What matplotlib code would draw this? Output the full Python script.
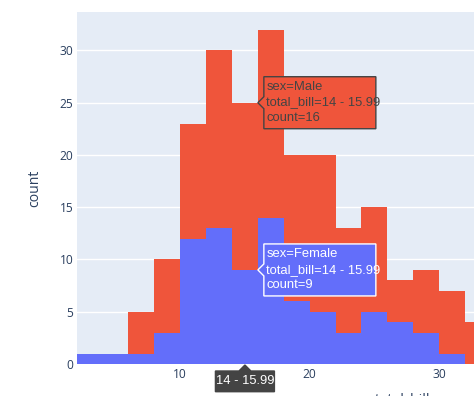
import matplotlib
matplotlib.use("Agg")
import matplotlib.pyplot as plt
import matplotlib.transforms as mtransforms
from matplotlib.patches import Polygon

# histogram of total_bill, bins of width 2, stacked by sex
bin_left = [2, 4, 6, 8, 10, 12, 14, 16, 18, 20, 22, 24, 26, 28, 30, 32]
bin_width = 2
female = [1, 1, 1, 3, 12, 13, 9, 14, 6, 5, 3, 5, 4, 3, 1, 0]
male = [0, 0, 4, 7, 11, 17, 16, 18, 14, 15, 10, 10, 4, 6, 6, 4]
y_ticks = [0, 5, 10, 15, 20, 25, 30]
x_ticks = [10, 20, 30]

BLUE = "#636EFA"
RED = "#EF553B"
BG = "#E5ECF6"
FONT_COLOR = "#2a3f5f"

W, H = 474, 396
fig = plt.figure(figsize=(W / 100, H / 100), dpi=100)
left, right, top, bottom = 76.7, 474, 12, 364
ax = fig.add_axes([left / W, 1 - bottom / H, (right - left) / W, (bottom - top) / H])
ax.set_facecolor(BG)
for s in ax.spines.values():
    s.set_visible(False)

ax.bar(bin_left, female, width=bin_width, align="edge", color=BLUE, linewidth=0, zorder=2)
ax.bar(bin_left, male, width=bin_width, bottom=female, align="edge", color=RED, linewidth=0, zorder=2)

ax.set_xlim(2, 2 + (right - left) / 12.94)
ax.set_ylim(0, 33.68)
ax.set_yticks(y_ticks)
ax.set_xticks(x_ticks)
ax.yaxis.grid(True, color="white", linewidth=1, zorder=0)
ax.xaxis.grid(False)
ax.set_axisbelow(True)
ax.tick_params(length=0, labelsize=8.64, labelcolor=FONT_COLOR)
ax.tick_params(axis="y", pad=2.5)
ax.tick_params(axis="x", pad=3)
for lbl in ax.get_xticklabels() + ax.get_yticklabels():
    lbl.set_fontfamily("Open Sans")

fig.text(34.3 / W, 1 - 188 / H, "count", rotation=90, ha="center", va="center",
         fontsize=10.08, color=FONT_COLOR, fontfamily="Open Sans")
fig.text(403 / W, 1 - 393 / H, "total_bill", ha="center", va="top",
         fontsize=10.08, color=FONT_COLOR, fontfamily="Open Sans")


def hover_box(xd, yd, lines, face, edge, text_color):
    # box with a small arrow on the left, offsets in pixels from the data anchor
    trans = mtransforms.Affine2D() + mtransforms.ScaledTranslation(xd, yd, ax.transData)
    w, h, a = 112, 52, 6
    verts = [(0, 0), (a, a), (a, h / 2), (a + w, h / 2), (a + w, -h / 2), (a, -h / 2), (a, -a)]
    ax.add_patch(Polygon(verts, closed=True, facecolor=face, edgecolor=edge, linewidth=1,
                         transform=trans, clip_on=False, zorder=5))
    for i, line in enumerate(lines):
        ax.text(a + 2.5, 16 - i * 15.7, line, transform=trans, ha="left", va="center",
                fontsize=9.36, color=text_color, fontfamily="Liberation Sans",
                clip_on=False, zorder=6)


hover_box(16, 25, ["sex=Male", "total_bill=14 - 15.99", "count=16"], RED, "#444444", "#444444")
hover_box(16, 9, ["sex=Female", "total_bill=14 - 15.99", "count=9"], BLUE, "white", "white")

# x-axis spike label
trans = mtransforms.Affine2D() + mtransforms.ScaledTranslation(15, 0, ax.transData)
bw, bh, a = 59, 20.7, 6
verts = [(0, -1), (a, -1 - a), (bw / 2, -1 - a), (bw / 2, -1 - a - bh),
         (-bw / 2, -1 - a - bh), (-bw / 2, -1 - a), (-a, -1 - a)]
ax.add_patch(Polygon(verts, closed=True, facecolor="#444444", edgecolor="#444444",
                     linewidth=1, transform=trans, clip_on=False, zorder=5))
ax.text(0, -1 - a - bh / 2, "14 - 15.99", transform=trans, ha="center", va="center",
        fontsize=9.36, color="white", fontfamily="Liberation Sans", clip_on=False, zorder=6)

fig.savefig("out.png", dpi=100, facecolor="white")
